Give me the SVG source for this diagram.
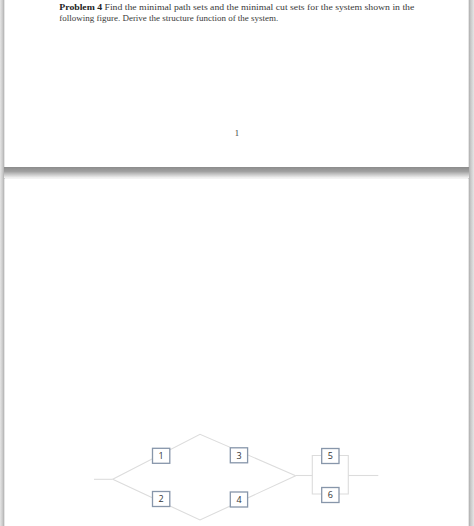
<svg xmlns="http://www.w3.org/2000/svg" width="474" height="526" viewBox="0 0 474 526">
  <defs>
    <linearGradient id="shadow" x1="0" y1="0" x2="0" y2="1">
      <stop offset="0" stop-color="#8c8c8c"/>
      <stop offset="0.4" stop-color="#a0a0a0"/>
      <stop offset="1" stop-color="#f4f4f4"/>
    </linearGradient>
    <linearGradient id="edgeL" x1="0" y1="0" x2="1" y2="0">
      <stop offset="0" stop-color="#e6e6e6"/>
      <stop offset="0.6" stop-color="#c8c8c8"/>
      <stop offset="1" stop-color="#a8a8a8"/>
    </linearGradient>
    <linearGradient id="edgeR" x1="0" y1="0" x2="1" y2="0">
      <stop offset="0" stop-color="#a8a8a8"/>
      <stop offset="0.4" stop-color="#c8c8c8"/>
      <stop offset="1" stop-color="#e6e6e6"/>
    </linearGradient>
  </defs>
  <style>
    .txt { font-family: "Liberation Serif", "DejaVu Serif", serif; font-size: 8.6px; fill: #3a3a3a; }
    .b { font-weight: bold; fill: #222; }
    .wire { fill: none; stroke: #dcdcdc; stroke-width: 1.1; }
    .box { fill: #ffffff; stroke: #8796aa; stroke-width: 1.3; }
    .lbl { font-family: "Open Sans", "Liberation Sans", sans-serif; font-size: 9px; fill: #333; text-anchor: middle; }
  </style>

  <!-- background / page frames -->
  <rect x="0" y="0" width="474" height="526" fill="#f3f3f3"/>
  <rect x="0" y="0" width="4.5" height="526" fill="url(#edgeL)"/>
  <rect x="468.5" y="0" width="5.5" height="526" fill="url(#edgeR)"/>
  <rect x="4" y="167" width="465" height="11" fill="url(#shadow)"/>
  <rect x="4.5" y="0" width="464" height="167" fill="#ffffff"/>
  <rect x="4.5" y="179" width="464" height="347" fill="#ffffff"/>

  <!-- page 1 text -->
  <g id="problem-text">
    <text class="txt" x="59.3" y="10.2" textLength="355" lengthAdjust="spacingAndGlyphs"><tspan class="b">Problem 4</tspan> Find the minimal path sets and the minimal cut sets for the system shown in the</text>
    <text class="txt" x="59.3" y="20.8" textLength="219" lengthAdjust="spacingAndGlyphs">following figure. Derive the structure function of the system.</text>
    <text class="txt" x="237" y="135.5" text-anchor="middle" font-size="8">1</text>
  </g>

  <!-- connectors -->
  <g id="connectors">
    <polyline class="wire" points="94,479.3 112.7,479.3"/>
    <polyline class="wire" points="112.7,479.3 200,434.3 295.7,475.7"/>
    <polyline class="wire" points="112.7,479.3 200,520 295.7,475.7"/>
    <polyline class="wire" points="295.7,475.5 312.3,475.5"/>
    <polyline class="wire" points="321.7,455.5 312.3,455.5 312.3,494 321.7,494"/>
    <polyline class="wire" points="339,455.5 348.3,455.5 348.3,494 339,494"/>
    <polyline class="wire" points="348.3,475.5 378.3,475.5"/>
  </g>

  <!-- nodes -->
  <g id="node1">
    <rect class="box" x="152.5" y="448.3" width="17.3" height="15"/>
    <text class="lbl" x="161.2" y="459.1">1</text>
  </g>
  <g id="node2">
    <rect class="box" x="152.5" y="491.5" width="17.3" height="15"/>
    <text class="lbl" x="161.2" y="502.3">2</text>
  </g>
  <g id="node3">
    <rect class="box" x="230.3" y="447.8" width="17.3" height="15"/>
    <text class="lbl" x="239" y="458.6">3</text>
  </g>
  <g id="node4">
    <rect class="box" x="230.3" y="492" width="17.3" height="15"/>
    <text class="lbl" x="239" y="502.8">4</text>
  </g>
  <g id="node5">
    <rect class="box" x="321.7" y="448.5" width="17.3" height="15"/>
    <text class="lbl" x="330.3" y="459.3">5</text>
  </g>
  <g id="node6">
    <rect class="box" x="321.7" y="487.5" width="17.3" height="15"/>
    <text class="lbl" x="330.3" y="498.3">6</text>
  </g>
</svg>
